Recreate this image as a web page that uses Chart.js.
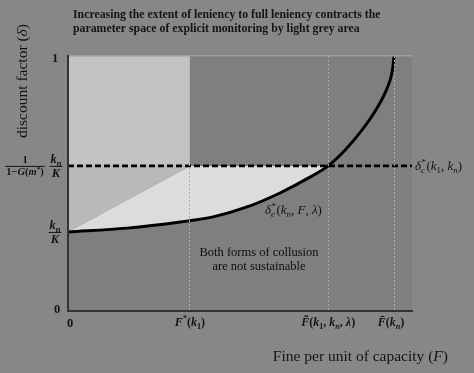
<!DOCTYPE html>
<html>
<head>
<meta charset="utf-8">
<script src="https://cdn.jsdelivr.net/npm/chart.js@4.4.1/dist/chart.umd.min.js"></script>
<style>
  html, body { margin: 0; padding: 0; background: #878787; }
  #wrap { width: 474px; height: 373px; }
</style>
</head>
<body>
<div id="wrap"><canvas id="c" width="474" height="373"></canvas></div>
<script>
// Fine levels marked on the horizontal axis (F̄(kn) normalised to 100):
// 0, F*(k1), F~(k1,kn,λ), F̄(kn)
const fineMarks = [0, 37.4, 79.8, 100];
const fineMax = 105.5;
// Discount-factor levels: 0, kn/K, δc*(k1,kn), 1
const deltaMarks = [0, 0.31, 0.569, 1];
// Critical discount factor δe*(kn,F,λ) under explicit monitoring
const curveF     = [0, 18.1, 34.4, 44.5, 54.9, 65.0, 74.2, 79.8, 85.0, 90.2, 94.8, 97.9, 99.4, 100];
const curveDelta = [0.310, 0.325, 0.349, 0.369, 0.408, 0.463, 0.525, 0.569, 0.631, 0.710, 0.796, 0.875, 0.937, 1.0];

const F_STAR = fineMarks[1], F_TILDE = fineMarks[2], F_BAR = fineMarks[3];
const KN_K = deltaMarks[1], DELTA_C = deltaMarks[2];

const PAGE_BG = '#878787';
const PLOT_BG = '#7f7f7f';
const SERIF = '"Liberation Serif", "DejaVu Serif", serif';
const NONE = 'rgba(0,0,0,0)';

const pts = (xs, ys) => xs.map((x, i) => ({ x, y: ys[i] }));

// ---- rich text helpers (italic / sub / sup / stacked sup+sub runs) ----
function runFont(p, size, weight, small) {
  const sz = small ? size * 0.68 : size;
  return `${p.i ? 'italic ' : ''}${weight} ${sz}px ${SERIF}`;
}
function partWidth(ctx, p, size, weight) {
  if (p.stack) {
    ctx.font = runFont({}, size, weight, true);
    const a = ctx.measureText(p.stack[0]).width;
    ctx.font = runFont({ i: true }, size, weight, true);
    const b = ctx.measureText(p.stack[1]).width;
    return Math.max(a, b) + 1;
  }
  ctx.font = runFont(p, size, weight, p.sub || p.sup);
  return ctx.measureText(p.t).width;
}
function richWidth(ctx, parts, size, weight) {
  let w = 0;
  for (const p of parts) w += partWidth(ctx, p, size, weight);
  return w;
}
function drawRich(ctx, parts, x, y, o) {
  const size = o.size, weight = o.weight || 'normal';
  const w = richWidth(ctx, parts, size, weight);
  let cx = o.align === 'center' ? x - w / 2 : o.align === 'right' ? x - w : x;
  ctx.save();
  ctx.fillStyle = o.color || '#111';
  ctx.textBaseline = 'alphabetic';
  ctx.textAlign = 'left';
  for (const p of parts) {
    const pw = partWidth(ctx, p, size, weight);
    if (p.stack) {
      ctx.font = runFont({}, size, weight, true);
      ctx.fillText(p.stack[0], cx + 0.5, y - size * 0.38);
      ctx.font = runFont({ i: true }, size, weight, true);
      ctx.fillText(p.stack[1], cx, y + size * 0.24);
    } else {
      ctx.font = runFont(p, size, weight, p.sub || p.sup);
      const dy = p.sub ? size * 0.22 : p.sup ? -size * 0.38 : 0;
      ctx.fillText(p.t, cx, y + dy);
    }
    cx += pw;
  }
  ctx.restore();
  return w;
}
function drawFrac(ctx, num, den, cx, cy, o) {
  const wn = richWidth(ctx, num, o.size, o.weight), wd = richWidth(ctx, den, o.size, o.weight);
  const w = Math.max(wn, wd) + 2;
  drawRich(ctx, num, cx, cy - 3, { ...o, align: 'center' });
  drawRich(ctx, den, cx, cy + o.size * 0.78 + 1, { ...o, align: 'center' });
  ctx.save();
  ctx.strokeStyle = o.color || '#111';
  ctx.lineWidth = 1;
  ctx.beginPath(); ctx.moveTo(cx - w / 2, cy + 0.5); ctx.lineTo(cx + w / 2, cy + 0.5); ctx.stroke();
  ctx.restore();
}

const R = (t, extra) => Object.assign({ t }, extra || {});
const I = (t) => R(t, { i: true });
const SUB = (t, it) => R(t, { sub: true, i: !!it });
const SUP = (t) => R(t, { sup: true });
const STAR_SUB = (s) => ({ stack: ['*', s] });

const backgroundPlugin = {
  id: 'bg',
  beforeDraw(chart) {
    const { ctx, chartArea: a } = chart;
    ctx.save();
    ctx.fillStyle = PAGE_BG;
    ctx.fillRect(0, 0, chart.width, chart.height);
    ctx.fillStyle = PLOT_BG;
    ctx.fillRect(a.left, a.top, a.right - a.left, a.bottom - a.top);
    ctx.restore();
  }
};

const labelPlugin = {
  id: 'labels',
  afterDraw(chart) {
    const { ctx } = chart;
    const xs = chart.scales.x, ys = chart.scales.y;
    const px = v => xs.getPixelForValue(v), py = v => ys.getPixelForValue(v);
    const ink = '#141414';

    // heading
    ctx.save();
    ctx.fillStyle = ink;
    ctx.font = `bold 11.8px ${SERIF}`;
    ctx.textBaseline = 'alphabetic';
    ctx.fillText('Increasing the extent of leniency to full leniency contracts the', 73, 18);
    ctx.fillText('parameter space of explicit monitoring by light grey area', 73, 32);
    ctx.restore();

    // axis titles
    ctx.save();
    ctx.translate(27, 81);
    ctx.rotate(-Math.PI / 2);
    drawRich(ctx, [R('discount factor ('), I('δ'), R(')')], 0, 0, { size: 15.5, align: 'center', color: ink });
    ctx.restore();
    drawRich(ctx, [R('Fine per unit of capacity ('), I('F'), R(')')], 448, 361, { size: 15.5, align: 'right', color: ink });

    // plain numeric ticks
    const tick = { size: 12.5, weight: 'bold', color: ink };
    drawRich(ctx, [R('1')], 55, py(1) + 6, { ...tick, align: 'center' });
    drawRich(ctx, [R('0')], 57, py(0) + 2, { ...tick, align: 'center' });
    drawRich(ctx, [R('0')], px(0) + 2, 327, { ...tick, align: 'center' });

    // fine-level ticks
    const ft = { size: 12, weight: 'bold', color: ink };
    drawRich(ctx, [I('F'), SUP('*'), R('('), I('k'), SUB('1'), R(')')], px(F_STAR), 326, { ...ft, align: 'center' });
    drawRich(ctx, [I('F\u0303'), R('('), I('k'), SUB('1'), R(', '), I('k'), SUB('n', true), R(', '), I('λ'), R(')')], px(F_TILDE), 326, { ...ft, align: 'center' });
    drawRich(ctx, [I('F\u0304'), R('('), I('k'), SUB('n', true), R(')')], px(F_BAR) - 3, 326, { ...ft, align: 'center' });

    // discount-factor fraction ticks
    const fr = { size: 10.5, weight: 'bold', color: ink };
    const frk = { size: 12.5, weight: 'bold', color: ink };
    drawFrac(ctx, [R('1')], [R('1−'), I('G'), R('('), I('m'), SUP('*'), R(')')], 25, py(DELTA_C), fr);
    drawFrac(ctx, [I('k'), SUB('n', true)], [I('K')], 56, py(DELTA_C), frk);
    drawFrac(ctx, [I('k'), SUB('n', true)], [I('K')], 55, py(KN_K), frk);

    // curve / line annotations
    const an = { size: 13, color: ink };
    drawRich(ctx, [I('δ'), STAR_SUB('c'), R('('), I('k'), SUB('1'), R(', '), I('k'), SUB('n', true), R(')')], px(fineMax) + 3, py(DELTA_C) + 4, { ...an, align: 'left' });
    drawRich(ctx, [I('δ'), STAR_SUB('e'), R('('), I('k'), SUB('n', true), R(', '), I('F'), R(', '), I('λ'), R(')')], 265, 214, { ...an, align: 'left' });

    ctx.save();
    ctx.fillStyle = '#0e0e0e';
    ctx.font = `12.5px ${SERIF}`;
    ctx.textAlign = 'center';
    ctx.textBaseline = 'alphabetic';
    ctx.fillText('Both forms of collusion', 259, 256);
    ctx.fillText('are not sustainable', 259, 270);
    ctx.restore();
  }
};

const noLine = { borderColor: NONE, borderWidth: 0, pointRadius: 0 };

new Chart(document.getElementById('c'), {
  type: 'line',
  data: {
    datasets: [
      { label: 'δc*(k1,kn)', data: pts([0, fineMax], [DELTA_C, DELTA_C]),
        borderColor: '#000', borderWidth: 2.6, borderDash: [6, 3], pointRadius: 0, fill: false, order: 1 },
      { label: 'δe*(kn,F,λ)', data: pts(curveF, curveDelta),
        borderColor: '#000', borderWidth: 2.9, pointRadius: 0, cubicInterpolationMode: 'monotone',
        fill: 'origin', backgroundColor: PLOT_BG, order: 2 },
      { label: 'explicit monitoring (partial leniency)', data: pts([0, F_STAR], [1, 1]),
        ...noLine, fill: { value: DELTA_C }, backgroundColor: '#c3c3c3', order: 3 },
      { label: 'boundary', data: pts([0, F_STAR], [KN_K, DELTA_C]),
        borderColor: '#a2a2a2', borderWidth: 1, borderDash: [1, 1], pointRadius: 0, fill: false, order: 3.5 },
      { label: 'explicit monitoring (full leniency)', data: pts([0, F_STAR, F_TILDE], [KN_K, DELTA_C, DELTA_C]),
        ...noLine, fill: 'origin', backgroundColor: '#dcdcdc', order: 4 },
      { label: 'tacit region', data: pts([0, F_STAR], [DELTA_C, DELTA_C]),
        ...noLine, fill: 'origin', backgroundColor: '#b9b9b9', order: 5 }
    ]
  },
  options: {
    responsive: false,
    animation: false,
    events: [],
    layout: { padding: { top: 56, right: 62, left: 0, bottom: 0 } },
    plugins: { legend: { display: false }, tooltip: { enabled: false }, title: { display: false } },
    scales: {
      x: {
        type: 'linear', min: 0, max: fineMax,
        afterBuildTicks: s => { s.ticks = fineMarks.map(v => ({ value: v })); },
        afterFit: s => { s.height = 62; },
        ticks: { display: false },
        grid: { z: 1, drawTicks: false, lineWidth: 1,
                color: c => (c.tick && c.tick.value > 0) ? '#acacac' : NONE },
        border: { z: 2, display: true, color: '#333', width: 2, dash: [2, 2] }
      },
      y: {
        type: 'linear', min: 0, max: 1,
        afterBuildTicks: s => { s.ticks = [{ value: 0 }, { value: 1 }]; },
        afterFit: s => { s.width = 68; },
        ticks: { display: false },
        grid: { z: 1, drawTicks: false, lineWidth: 1.5,
                color: c => (c.tick && c.tick.value === 1) ? '#9e9e9e' : NONE },
        border: { z: 2, display: true, color: '#333', width: 2 }
      }
    }
  },
  plugins: [backgroundPlugin, labelPlugin]
});
</script>
</body>
</html>
